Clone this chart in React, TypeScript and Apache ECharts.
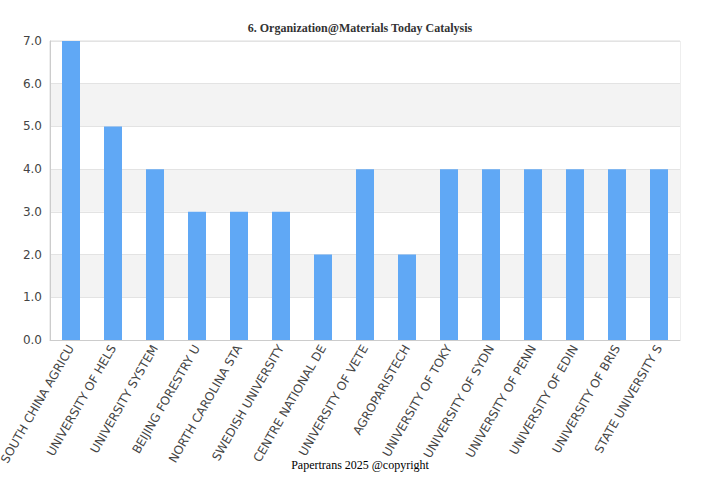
import React, { useEffect, useRef } from "react";
import * as echarts from "echarts";

const categories = [
  "SOUTH CHINA AGRICU",
  "UNIVERSITY OF HELS",
  "UNIVERSITY SYSTEM",
  "BEIJING FORESTRY U",
  "NORTH CAROLINA STA",
  "SWEDISH UNIVERSITY",
  "CENTRE NATIONAL DE",
  "UNIVERSITY OF VETE",
  "AGROPARISTECH",
  "UNIVERSITY OF TOKY",
  "UNIVERSITY OF SYDN",
  "UNIVERSITY OF PENN",
  "UNIVERSITY OF EDIN",
  "UNIVERSITY OF BRIS",
  "STATE UNIVERSITY S",
];
const values = [7, 5, 4, 3, 3, 3, 2, 4, 2, 4, 4, 4, 4, 4, 4];
const titleText = "6. Organization@Materials Today Catalysis";
const footerText = "Papertrans 2025 @copyright";

export default function App() {
  const ref = useRef<HTMLDivElement>(null);
  useEffect(() => {
    document.body.style.margin = "0";
    if (!ref.current) return;
    const chart = echarts.init(ref.current, undefined, { renderer: "svg" });
    chart.setOption({
      animation: false,
      title: {
        text: titleText,
        left: "center",
        top: 17,
        textStyle: {
          fontFamily: "Liberation Serif",
          fontSize: 12,
          fontWeight: "bold",
          color: "#333",
        },
      },
      graphic: [
        {
          type: "text",
          left: "center",
          top: 459,
          style: {
            text: footerText,
            font: "12px 'Liberation Serif'",
            fill: "#000",
          },
        },
      ],
      grid: {
        left: 50,
        right: 40,
        top: 41,
        bottom: 140,
        show: true,
        borderColor: "#ddd",
        borderWidth: 1,
        outerBoundsMode: "none",
        containLabel: false,
      },
      xAxis: {
        type: "category",
        data: categories,
        axisLine: { lineStyle: { color: "#ccc" } },
        axisTick: { show: false },
        axisLabel: {
          rotate: 60,
          interval: 0,
          fontSize: 12,
          color: "#444",
          fontFamily: "DejaVu Sans",
          margin: 6,
        },
      },
      yAxis: {
        type: "value",
        min: 0,
        max: 7,
        interval: 1,
        axisLine: { show: true, lineStyle: { color: "#ccc" } },
        axisTick: { show: false },
        axisLabel: {
          formatter: (v: number) => v.toFixed(1),
          fontSize: 12,
          color: "#444",
          fontFamily: "DejaVu Sans",
        },
        splitLine: { show: true, lineStyle: { color: "#e3e3e3" } },
        splitArea: { show: true, areaStyle: { color: ["#ffffff", "#f3f3f3"] } },
      },
      series: [
        {
          type: "bar",
          data: values,
          barWidth: 18,
          itemStyle: { color: "#60a8f5" },
        },
      ],
    });
    return () => chart.dispose();
  }, []);
  return <div ref={ref} style={{ width: 720, height: 480 }} />;
}
